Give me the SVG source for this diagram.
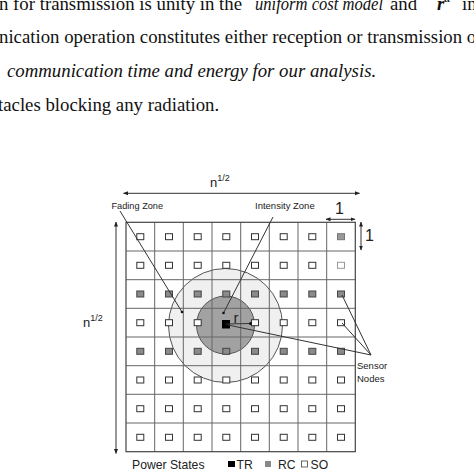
<svg xmlns="http://www.w3.org/2000/svg" width="474" height="474" viewBox="0 0 474 474">
<defs>
<style>
.para{font-family:"Liberation Serif","Times New Roman",serif;font-size:18.8px;fill:#111}
.it{font-style:italic}
.lbl{font-family:"Liberation Sans",Arial,sans-serif;fill:#222}
.grid{stroke:#666;stroke-width:1;fill:none}
.border{stroke:#444;stroke-width:1.2;fill:none}
.so{fill:#fff;stroke:#333;stroke-width:1}
.rc{fill:#8a8a8a;stroke:#444;stroke-width:1}
.tr{fill:#000;stroke:#000;stroke-width:1}
.conn{stroke:#333;stroke-width:1;fill:none}
.dim{stroke:#333;stroke-width:1;fill:none;marker-start:url(#ah);marker-end:url(#ah)}
</style>
<marker id="ah" viewBox="0 0 10 10" refX="9" refY="5" markerWidth="5" markerHeight="5" orient="auto-start-reverse" markerUnits="userSpaceOnUse">
<path d="M0,1 L10,5 L0,9 z" fill="#222"/>
</marker>
<rect id="sq" x="-3.5" y="-3" width="7" height="6"/>
</defs>
<rect width="474" height="474" fill="#fff"/>

<g id="paragraph">
<text class="para" x="-1" y="10" textLength="243" lengthAdjust="spacing">n for transmission is unity in the</text>
<text class="para it" x="255" y="10" textLength="128" lengthAdjust="spacingAndGlyphs">uniform cost model</text>
<text class="para" x="390" y="10">and</text>
<text class="para it" x="437" y="10" font-weight="bold">r<tspan font-size="11" dy="-8">α</tspan></text>
<text class="para" x="462" y="10">in</text>
<text class="para" x="-1" y="43">nication operation constitutes either reception or transmission o</text>
<text class="para it" x="7" y="77">communication time and energy for our analysis.</text>
<text class="para" x="-2" y="111">tacles blocking any radiation.</text>
</g>

<g id="zones">
<circle id="fading-zone" cx="225.5" cy="325.5" r="57" fill="#f0f0f0" stroke="#555" stroke-width="1"/>
<circle id="intensity-zone" cx="225.5" cy="325" r="29" fill="#a2a2a2" stroke="#555" stroke-width="1"/>
</g>

<g id="grid">
<path class="grid" d="M154.7,222.3V451.7M183.3,222.3V451.7M212,222.3V451.7M240.7,222.3V451.7M269.3,222.3V451.7M298,222.3V451.7M326.7,222.3V451.7M126,251H355.3M126,279.7H355.3M126,308.3H355.3M126,337H355.3M126,365.7H355.3M126,394.3H355.3M126,423H355.3"/>
<rect class="border" x="126" y="222.3" width="229.3" height="229.4"/>
</g>

<g id="nodes">
<g id="row0"><use href="#sq" class="so" x="140.3" y="236.7"/><use href="#sq" class="so" x="169" y="236.7"/><use href="#sq" class="so" x="197.7" y="236.7"/><use href="#sq" class="so" x="226.3" y="236.7"/><use href="#sq" class="so" x="255" y="236.7"/><use href="#sq" class="so" x="283.7" y="236.7"/><use href="#sq" class="so" x="312.3" y="236.7"/><use href="#sq" class="rc" x="341" y="236.7" style="fill:#999;stroke:#777"/></g>
<g id="row1"><use href="#sq" class="so" x="140.3" y="265.3"/><use href="#sq" class="so" x="169" y="265.3"/><use href="#sq" class="so" x="197.7" y="265.3"/><use href="#sq" class="so" x="226.3" y="265.3"/><use href="#sq" class="so" x="255" y="265.3"/><use href="#sq" class="so" x="283.7" y="265.3"/><use href="#sq" class="so" x="312.3" y="265.3"/><use href="#sq" class="so" x="341" y="265.3" style="stroke:#999"/></g>
<g id="row2"><use href="#sq" class="rc" x="140.3" y="294"/><use href="#sq" class="rc" x="169" y="294"/><use href="#sq" class="rc" x="197.7" y="294"/><use href="#sq" class="rc" x="226.3" y="294"/><use href="#sq" class="rc" x="255" y="294"/><use href="#sq" class="rc" x="283.7" y="294"/><use href="#sq" class="rc" x="312.3" y="294"/><use href="#sq" class="rc" x="341" y="294"/></g>
<g id="row3"><use href="#sq" class="so" x="140.3" y="322.7"/><use href="#sq" class="so" x="169" y="322.7"/><use href="#sq" class="so" x="197.7" y="322.7"/><rect id="transmitter" class="tr" x="222.5" y="320.5" width="7" height="7.5"/><use href="#sq" class="so" x="255" y="322.7"/><use href="#sq" class="so" x="283.7" y="322.7"/><use href="#sq" class="so" x="312.3" y="322.7"/><use href="#sq" class="so" x="341" y="322.7"/></g>
<g id="row4"><use href="#sq" class="rc" x="140.3" y="351.3"/><use href="#sq" class="rc" x="169" y="351.3"/><use href="#sq" class="rc" x="197.7" y="351.3"/><use href="#sq" class="rc" x="226.3" y="351.3"/><use href="#sq" class="rc" x="255" y="351.3"/><use href="#sq" class="rc" x="283.7" y="351.3"/><use href="#sq" class="rc" x="312.3" y="351.3"/><use href="#sq" class="rc" x="341" y="351.3"/></g>
<g id="row5"><use href="#sq" class="so" x="140.3" y="380"/><use href="#sq" class="so" x="169" y="380"/><use href="#sq" class="so" x="197.7" y="380"/><use href="#sq" class="so" x="226.3" y="380"/><use href="#sq" class="so" x="255" y="380"/><use href="#sq" class="so" x="283.7" y="380"/><use href="#sq" class="so" x="312.3" y="380"/><use href="#sq" class="so" x="341" y="380"/></g>
<g id="row6"><use href="#sq" class="so" x="140.3" y="408.7"/><use href="#sq" class="so" x="169" y="408.7"/><use href="#sq" class="so" x="197.7" y="408.7"/><use href="#sq" class="so" x="226.3" y="408.7"/><use href="#sq" class="so" x="255" y="408.7"/><use href="#sq" class="so" x="283.7" y="408.7"/><use href="#sq" class="so" x="312.3" y="408.7"/><use href="#sq" class="so" x="341" y="408.7"/></g>
<g id="row7"><use href="#sq" class="so" x="140.3" y="437.3"/><use href="#sq" class="so" x="169" y="437.3"/><use href="#sq" class="so" x="197.7" y="437.3"/><use href="#sq" class="so" x="226.3" y="437.3"/><use href="#sq" class="so" x="255" y="437.3"/><use href="#sq" class="so" x="283.7" y="437.3"/><use href="#sq" class="so" x="312.3" y="437.3"/><use href="#sq" class="so" x="341" y="437.3"/></g>
</g>

<g id="connectors">
<path class="conn" d="M120,211L182,312"/>
<circle cx="182" cy="312" r="1.3" fill="#111"/>
<path class="conn" d="M273,217L223.5,313"/>
<circle cx="223.5" cy="313" r="1.3" fill="#111"/>
<path class="conn" d="M226,324L250.5,323.5"/>
<circle cx="250.5" cy="323.5" r="1.5" fill="#111"/>
<path class="conn" d="M342,295L371,355M342,323L371,355M228,325L371,355"/>
<path class="dim" d="M123.5,193.3H359.5"/>
<path class="dim" d="M326,219.3H355"/>
<path class="dim" d="M361,222V250"/>
<path class="dim" d="M116,222V453.5"/>
</g>

<g id="labels">
<text class="lbl" x="210" y="187" font-size="13">n<tspan font-size="9" dy="-6">1/2</tspan></text>
<text class="lbl" x="83" y="327" font-size="13">n<tspan font-size="9" dy="-6">1/2</tspan></text>
<text class="lbl" x="111.5" y="208.5" font-size="9.2">Fading Zone</text>
<text class="lbl" x="255" y="208.5" font-size="9.5">Intensity Zone</text>
<text class="lbl" x="335" y="214" font-size="16">1</text>
<text class="lbl" x="365" y="240.5" font-size="16">1</text>
<text class="lbl" x="233.5" y="322.5" font-size="15">r</text>
<text class="lbl" x="357" y="369" font-size="9.5">Sensor</text>
<text class="lbl" x="357" y="382" font-size="9.5">Nodes</text>
</g>

<g id="legend">
<text class="lbl" x="132" y="469" font-size="12.2">Power States</text>
<rect x="228" y="461" width="7" height="6" fill="#000"/>
<text class="lbl" x="236.5" y="469" font-size="12.2">TR</text>
<rect x="265" y="461" width="6" height="6" fill="#888"/>
<text class="lbl" x="278" y="469" font-size="12.2">RC</text>
<rect x="301.5" y="461" width="6" height="6" fill="#fff" stroke="#444" stroke-width="0.8"/>
<text class="lbl" x="310.5" y="469" font-size="12.2">SO</text>
</g>
</svg>
